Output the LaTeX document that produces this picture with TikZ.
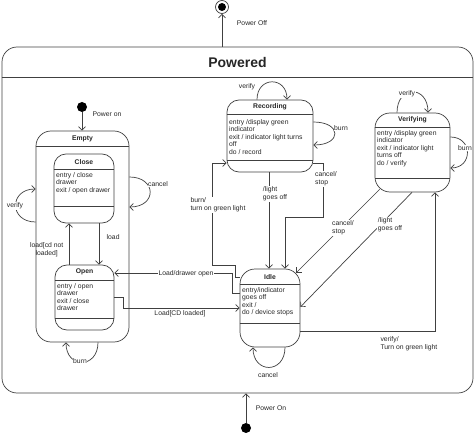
\documentclass[tikz,border=0pt]{standalone}
\usepackage{fontspec}
\setmainfont{Liberation Sans}
\usetikzlibrary{arrows.meta,calc}

\begin{document}
\begin{tikzpicture}[x=1pt, y=-1pt,
    every node/.style={font=\fontsize{6.8}{7.6}\selectfont, text=black!85},
    wire/.style={draw=black!75, line width=0.7pt},
    arr/.style={wire, -{Straight Barb[length=3.5pt,width=7pt]}},
    statebox/.style 2 args={wire, rounded corners=12pt, minimum width=#1, minimum height=#2, inner sep=0pt},
    title/.style={font=\fontsize{6.8}{7.6}\selectfont\bfseries},
    body/.style={anchor=north west, align=left, inner sep=0pt},
    lbl/.style={fill=white, inner sep=0.6pt, align=left},
    dot/.style={circle, fill=black, minimum size=10pt, inner sep=0pt}]
        \useasboundingbox (0,0) rectangle (474,433);

        % composite states
        \node[statebox={471pt}{346pt}, rounded corners=15pt] (Powered) at (237.5,220) {};
        \node[statebox={93pt}{211pt}, rounded corners=15pt] (Empty) at (82.5,236.5) {};
        \draw[wire] (Powered.west |- 0,77) -- (Powered.east |- 0,77);
        \draw[wire] (Empty.west |- 0,146) -- (Empty.east |- 0,146);
        \node[font=\fontsize{14}{16}\selectfont\bfseries] (poweredTitle) at (237.5,62) {Powered};
        \node[title] (emptyTitle) at (82.5,138.5) {Empty};

        % simple states
        \node[statebox={60pt}{69pt}] (Close) at (84,188.5) {};
        \node[statebox={59pt}{65pt}] (Open) at (84.5,297.5) {};
        \node[statebox={86pt}{72pt}] (Recording) at (270,136) {};
        \node[statebox={75pt}{79pt}, rounded corners=15pt] (Verifying) at (412.5,152.5) {};
        \node[statebox={60pt}{78pt}, rounded corners=15pt] (Idle) at (270,308) {};

        % compartments
        \draw[wire] (Close.west |- 0,169) -- (Close.east |- 0,169);
        \draw[wire] (Close.west |- 0,206) -- (Close.east |- 0,206);
        \draw[wire] (Open.west |- 0,280) -- (Open.east |- 0,280);
        \draw[wire] (Open.west |- 0,318) -- (Open.east |- 0,318);
        \draw[wire] (Recording.west |- 0,114) -- (Recording.east |- 0,114);
        \draw[wire] (Recording.west |- 0,160) -- (Recording.east |- 0,160);
        \draw[wire] (Verifying.west |- 0,127) -- (Verifying.east |- 0,127);
        \draw[wire] (Verifying.west |- 0,178) -- (Verifying.east |- 0,178);
        \draw[wire] (Idle.west |- 0,284) -- (Idle.east |- 0,284);
        \draw[wire] (Idle.west |- 0,323) -- (Idle.east |- 0,323);

        % state names and activities
        \node[title] (closeTitle) at (84,162) {Close};
        \node[title] (openTitle) at (84.5,272) {Open};
        \node[title] (recTitle) at (270,107) {Recording};
        \node[title] (verTitle) at (412.5,120) {Verifying};
        \node[title] (idleTitle) at (270,277) {Idle};
        \node[body] (closeBody) at (56,172) {entry / close\\drawer\\exit / open drawer};
        \node[body] (openBody) at (57,283) {entry / open\\drawer\\exit / close\\drawer};
        \node[body] (recBody) at (229,119) {entry /display green\\indicator\\exit / indicator light turns\\off\\do / record};
        \node[body] (verBody) at (377,130) {entry /display green\\indicator\\exit / indicator light\\turns off\\do / verify};
        \node[body] (idleBody) at (242,287) {entry/indicator\\goes off\\exit /\\do / device stops};

        % initial and final states
        \node[dot] (emptyInit) at (82,107) {};
        \node[dot] (powerInit) at (246,428) {};
        \node[circle, wire, minimum size=13pt, inner sep=0pt] (final) at (222,7) {};
        \node[dot, minimum size=8pt] (finalDot) at (final) {};
        \draw[arr] (emptyInit) -- (Empty.north -| emptyInit);
        \node (powerOnTxt) at (107,114) {Power on};
        \draw[arr] (powerInit) -- (Powered.south -| powerInit);
        \node (powerOnBot) at (271,408) {Power On};
        \draw[arr] (Powered.north -| final) -- (final);
        \node (powerOffTxt) at (252,23) {Power Off};

        % self transitions
        \draw[arr] (Empty.west |- 0,222) .. controls (9,222) and (9,189) .. (Empty.west |- 0,189);
        \node[lbl] (emptyVerify) at (15,206) {verify};
        \draw[arr] (Empty.east |- 0,177) .. controls (157,177) and (157,207) .. (Empty.east |- 0,207);
        \node[lbl] (emptyCancel) at (158,184) {cancel};
        \draw[arr] (Empty.south -| 98,0) .. controls (98,369) and (66,369) .. (Empty.south -| 66,0);
        \node[lbl] (emptyBurn) at (80,361) {burn};
        \draw[arr] (Recording.north -| 257,0) .. controls (257,76) and (287,76) .. (Recording.north -| 287,0);
        \node (recVerify) at (247,87) {verify};
        \draw[arr] (Recording.east |- 0,122) .. controls (342,122) and (342,145) .. (Recording.east |- 0,145);
        \node[lbl] (recBurn) at (341,128) {burn};
        \draw[arr] (Verifying.north -| 397,0) .. controls (397,85) and (428,85) .. (Verifying.north -| 428,0);
        \node[lbl] (verVerify) at (407,94) {verify};
        \draw[arr] (Verifying.east |- 0,137) .. controls (473,137) and (473,168) .. (Verifying.east |- 0,168);
        \node[lbl] (verBurn) at (465,148) {burn};
        \draw[arr] (Idle.south -| 285,0) .. controls (285,374) and (253,374) .. (Idle.south -| 253,0);
        \node (idleCancel) at (268,375) {cancel};

        % Close <-> Open
        \draw[arr] (Close.south -| 99,0) -- (Open.north -| 99,0) node[pos=0.33, right=4pt] (loadTxt) {load};
        \draw[arr] (Open.north -| 69,0) -- (Close.south -| 69,0) node[pos=0.36, left=2pt, align=center] (notLoadedTxt) {load[cd not\\loaded]};

        % Open <-> Idle
        \draw[arr] (Idle.west |- 0,293) -- (232,293) -- (232,273) -- (Open.east |- 0,273);
        \node[lbl] (drawerOpen) at (186,274) {Load/drawer open};
        \draw[arr] (Open.east |- 0,297) -- (123,297) -- (123,308) -- (Idle.west |- 0,308);
        \node (cdLoaded) at (180,314) {Load[CD loaded]};

        % Idle <-> Recording
        \draw[arr] (Idle.west |- 0,277) -- (235,277) -- (235,265) -- (212,265) -- (212,163) -- (Recording.west |- 0,163);
        \node[lbl] (burnTxt) at (218,205) {burn/\\turn on green light};
        \draw[arr] (Recording.south -| 269,0) -- (Idle.north -| 269,0);
        \node[lbl] (recLight) at (275,194) {/light\\goes off};
        \draw[arr] (Recording.east |- 0,163) -- (323,163) -- (323,217) -- (285,217) -- (Idle.north -| 285,0);
        \node[lbl] (recStop) at (326,179) {cancel/\\stop};

        % Idle <-> Verifying
        \draw[arr] ($(Verifying.south west)+(5,-3)$) -- ($(Idle.north east)+(-4,4)$);
        \node[lbl] (verStop) at (343,228) {cancel/\\stop};
        \draw[arr] (Verifying.south -| 412,0) -- (Idle.east |- 0,307);
        \node[lbl] (verLight) at (390,225) {/light\\goes off};
        \draw[arr] (Idle.east |- 0,331) -- (435,331) -- (Verifying.south -| 435,0);
        \node[anchor=west, align=left] (verifyTxt) at (377,343.5) {verify/\\Turn on green light};
    \end{tikzpicture}
\end{document}
